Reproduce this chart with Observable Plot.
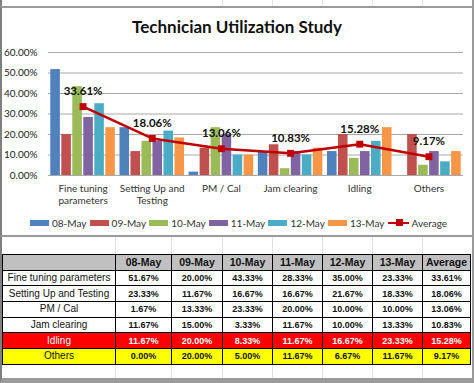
<!DOCTYPE html>
<html><head><meta charset="utf-8">
<script src="https://cdn.jsdelivr.net/npm/d3@7"></script>
<script src="https://cdn.jsdelivr.net/npm/@observablehq/plot@0.6"></script>
<style>
html,body{margin:0;padding:0;}
body{width:474px;height:383px;overflow:hidden;position:relative;background:#fff;font-family:Lato,"Open Sans",sans-serif;}
.gl{position:absolute;background:#e2e2e2;}
#chartbox{position:absolute;left:0;top:6px;width:470px;height:227px;border:2px solid #9a9a9a;border-left-color:#808080;background:#fff;}
#outer{position:absolute;left:0;top:0;width:470px;height:378px;border-left:2px solid #808080;border-right:2px solid #9a9a9a;border-bottom:5px solid #9a9a9a;}
#title{position:absolute;left:0;width:474px;top:17px;text-align:center;font-weight:bold;font-size:17px;color:#111;line-height:20px;}
#plot{position:absolute;left:0;top:40px;}
#legend{position:absolute;left:30px;top:217px;height:12px;display:flex;align-items:center;font-size:10px;color:#333;}
.li{display:flex;align-items:center;width:59.6px;}
.sw{width:19px;height:6px;margin-right:3px;}
.ln{position:relative;width:22px;height:2.5px;background:#c00000;margin-right:3px;}
.ln:after{content:"";position:absolute;left:8px;top:-2.5px;width:7px;height:7px;background:#c00000;}
#tbl{position:absolute;left:2px;top:254px;border-collapse:collapse;table-layout:fixed;font-family:"Liberation Sans",Arial,sans-serif;}
#tbl td{border:1px solid #000;padding:0;height:14.7px;text-align:center;vertical-align:middle;white-space:nowrap;overflow:hidden;line-height:12px;}
#tbl tr.h td{background:#c0c0c0;font-weight:bold;font-size:10.5px;color:#111;}
#tbl td.lab{font-size:10px;color:#111;}
#tbl td.val{font-size:9px;font-weight:bold;color:#111;}
#tbl tr.red td{background:#ff0000;color:#fff;}
#tbl tr.yel td{background:#ffff00;color:#111;}
</style></head><body>
<div id="outer"></div>
<div id="chartbox"></div>
<div id="title">Technician Utilization Study</div>
<div id="plot"></div>
<div id="legend"></div>
<table id="tbl"></table>
<script>
// ---- data ----
const categories = ["Fine tuning parameters", "Setting Up and Testing", "PM / Cal", "Jam clearing", "Idling", "Others"];
const axisLabels = ["Fine tuning\nparameters", "Setting Up and\nTesting", "PM / Cal", "Jam clearing", "Idling", "Others"];
const dates = ["08-May", "09-May", "10-May", "11-May", "12-May", "13-May"];
const may08 = [51.67, 23.33, 1.67, 11.67, 11.67, 0.00];
const may09 = [20.00, 11.67, 13.33, 15.00, 20.00, 20.00];
const may10 = [43.33, 16.67, 23.33, 3.33, 8.33, 5.00];
const may11 = [28.33, 16.67, 20.00, 11.67, 11.67, 11.67];
const may12 = [35.00, 21.67, 10.00, 10.00, 16.67, 6.67];
const may13 = [23.33, 18.33, 10.00, 13.33, 23.33, 11.67];
const average = [33.61, 18.06, 13.06, 10.83, 15.28, 9.17];
const yTicks = [0, 10, 20, 30, 40, 50, 60];
const colors = ["#4f81bd", "#c0504d", "#9bbb59", "#8064a2", "#4bacc6", "#f79646"];
const lineColor = "#c00000";

const series = [may08, may09, may10, may11, may12, may13];
const fmt = v => v.toFixed(2) + "%";

const bars = [];
categories.forEach((c, i) => series.forEach((s, j) => bars.push({i, j, cat: c, date: dates[j], value: s[i]})));
const avgRows = categories.map((c, i) => ({i, cat: c, avg: average[i]}));

const step = 0.159, fill = 0.87;
const chart = Plot.plot({
  width: 474, height: 170,
  marginLeft: 48, marginRight: 11, marginTop: 12, marginBottom: 35,
  x: {domain: [-0.5, 5.5], axis: null},
  y: {domain: [0, 60], axis: null},
  color: {domain: dates, range: colors},
  style: {fontFamily: "Lato, sans-serif", background: "transparent", overflow: "visible"},
  marks: [
    Plot.gridY(yTicks, {stroke: "#a8a8a8", strokeOpacity: 1, strokeWidth: 1}),
    Plot.axisY(yTicks, {tickSize: 0, tickPadding: 11, tickFormat: fmt, fontSize: 10, fill: "#222"}),
    Plot.rectY(bars, {
      x1: d => d.i + (d.j - 3) * step + step * (1 - fill) / 2,
      x2: d => d.i + (d.j - 2) * step - step * (1 - fill) / 2,
      y: "value", fill: "date"
    }),
    Plot.line(avgRows, {x: "i", y: "avg", stroke: lineColor, strokeWidth: 2.5}),
    Plot.dot(avgRows, {x: "i", y: "avg", symbol: "square", fill: lineColor, stroke: "none", r: 3.9}),
    Plot.text(avgRows, {x: "i", y: "avg", text: d => fmt(d.avg), dy: -15, fontWeight: "bold", fontSize: 11.5, fill: "#111"}),
    Plot.text(avgRows, {x: "i", text: d => axisLabels[d.i], frameAnchor: "bottom", lineAnchor: "top", dy: 8, lineHeight: 1.2, fontSize: 10, fill: "#333"})
  ]
});
document.getElementById("plot").appendChild(chart);

// legend
const lg = document.getElementById("legend");
dates.forEach((d, j) => {
  const it = document.createElement("div"); it.className = "li";
  it.innerHTML = `<span class="sw" style="background:${colors[j]}"></span><span>${d}</span>`;
  lg.appendChild(it);
});
const av = document.createElement("div"); av.className = "li";
av.innerHTML = `<span class="ln"></span><span>Average</span>`;
lg.appendChild(av);

// table
const widths = [113, 56, 51, 50, 50, 50, 50, 48];
const tbl = document.getElementById("tbl");
const cg = document.createElement("colgroup");
widths.forEach(w => { const c = document.createElement("col"); c.style.width = w + "px"; cg.appendChild(c); });
tbl.appendChild(cg);
const hr = document.createElement("tr"); hr.className = "h";
["", ...dates, "Average"].forEach(t => { const td = document.createElement("td"); td.textContent = t; hr.appendChild(td); });
tbl.appendChild(hr);
categories.forEach((c, i) => {
  const tr = document.createElement("tr");
  if (c === "Idling") tr.className = "red";
  if (c === "Others") tr.className = "yel";
  const l = document.createElement("td"); l.className = "lab"; l.textContent = c; tr.appendChild(l);
  [...series.map(s => s[i]), average[i]].forEach(v => {
    const td = document.createElement("td"); td.className = "val"; td.textContent = fmt(v); tr.appendChild(td);
  });
  tbl.appendChild(tr);
});

// faint spreadsheet gridlines
[[222,0,6],[272,0,6],[322,0,6],[372,0,6],[422,0,6]].forEach(([x,y,h]) => {
  const g = document.createElement("div"); g.className = "gl";
  g.style.cssText = `left:${x}px;top:${y}px;width:1px;height:${h}px`; document.body.appendChild(g);
});
[115,171,222,272,322,372,422].forEach(x => {
  [[237,17],[365,13]].forEach(([y,h]) => {
    const g = document.createElement("div"); g.className = "gl";
    g.style.cssText = `left:${x}px;top:${y}px;width:1px;height:${h}px`; document.body.appendChild(g);
  });
});
</script>
</body></html>
